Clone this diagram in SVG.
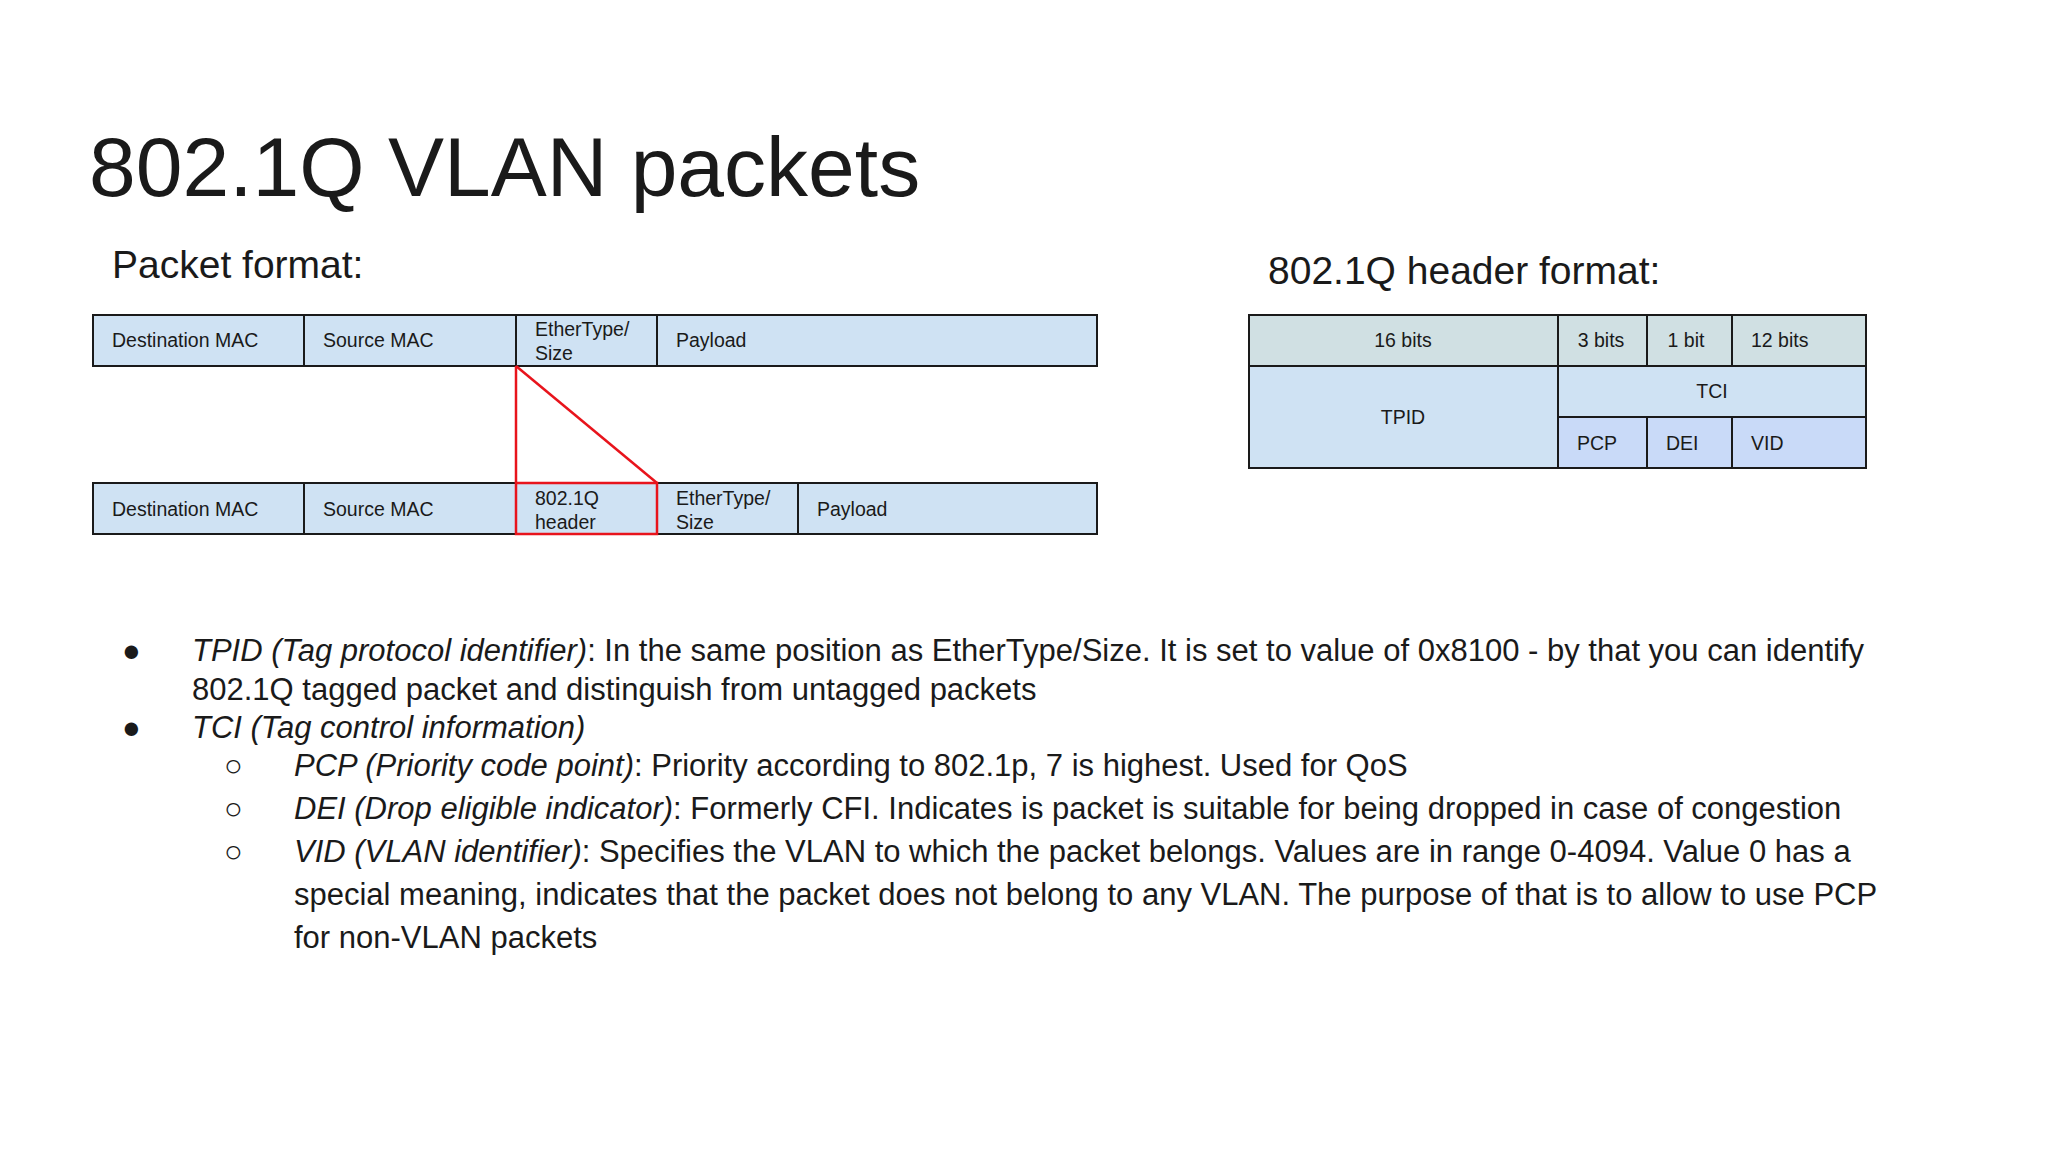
<svg xmlns="http://www.w3.org/2000/svg" width="2048" height="1152" viewBox="0 0 2048 1152">
<style>
text{font-family:"Liberation Sans",Arial,sans-serif;fill:#1a1a1a}
.c{font-size:19.5px}
.cm{font-size:19.5px;text-anchor:middle}
.b{font-size:31px}
.i{font-style:italic}
.cell{stroke:#1a1a1a;stroke-width:2}
.pk{fill:#cfe2f3}
.hd{fill:#d0e0e3}
.sb{fill:#c9daf8}
.red{fill:none;stroke:#e8141c;stroke-width:2.5}
</style>
<rect width="2048" height="1152" fill="#fff"/>
<text x="89" y="196" font-size="84">802.1Q VLAN packets</text>
<text x="112" y="278" font-size="39">Packet format:</text>
<text x="1268" y="284" font-size="39">802.1Q header format:</text>
<g id="packet-top">
<rect class="cell pk" x="93" y="315" width="211" height="51"/>
<rect class="cell pk" x="304" y="315" width="212" height="51"/>
<rect class="cell pk" x="516" y="315" width="141" height="51"/>
<rect class="cell pk" x="657" y="315" width="440" height="51"/>
<text class="c" x="112" y="347">Destination MAC</text>
<text class="c" x="323" y="347">Source MAC</text>
<text class="c" x="535" y="336">EtherType/</text>
<text class="c" x="535" y="360">Size</text>
<text class="c" x="676" y="347">Payload</text>
</g>
<g id="packet-bottom">
<rect class="cell pk" x="93" y="483" width="211" height="51"/>
<rect class="cell pk" x="304" y="483" width="212" height="51"/>
<rect class="cell pk" x="516" y="483" width="141" height="51"/>
<rect class="cell pk" x="657" y="483" width="141" height="51"/>
<rect class="cell pk" x="798" y="483" width="299" height="51"/>
<rect class="red" x="516" y="483" width="141" height="51"/>
<text class="c" x="112" y="516">Destination MAC</text>
<text class="c" x="323" y="516">Source MAC</text>
<text class="c" x="535" y="505">802.1Q</text>
<text class="c" x="535" y="529">header</text>
<text class="c" x="676" y="505">EtherType/</text>
<text class="c" x="676" y="529">Size</text>
<text class="c" x="817" y="516">Payload</text>
</g>
<g id="connectors">
<line class="red" x1="516" y1="366" x2="516" y2="483"/>
<line class="red" x1="516" y1="366" x2="657" y2="483"/>
</g>
<g id="header-format">
<rect class="cell hd" x="1249" y="315" width="309" height="51"/>
<rect class="cell hd" x="1558" y="315" width="89" height="51"/>
<rect class="cell hd" x="1647" y="315" width="85" height="51"/>
<rect class="cell hd" x="1732" y="315" width="134" height="51"/>
<rect class="cell pk" x="1249" y="366" width="309" height="102"/>
<rect class="cell pk" x="1558" y="366" width="308" height="51"/>
<rect class="cell sb" x="1558" y="417" width="89" height="51"/>
<rect class="cell sb" x="1647" y="417" width="85" height="51"/>
<rect class="cell sb" x="1732" y="417" width="134" height="51"/>
<text class="cm" x="1403" y="347">16 bits</text>
<text class="cm" x="1601" y="347">3 bits</text>
<text class="cm" x="1686" y="347">1 bit</text>
<text class="c" x="1751" y="347">12 bits</text>
<text class="cm" x="1403" y="424">TPID</text>
<text class="cm" x="1712" y="398">TCI</text>
<text class="c" x="1577" y="450">PCP</text>
<text class="c" x="1666" y="450">DEI</text>
<text class="c" x="1751" y="450">VID</text>
</g>
<g id="bullets">
<text class="b" x="122" y="661">●</text>
<text class="b" x="192" y="661"><tspan class="i">TPID (Tag protocol identifier)</tspan>: In the same position as EtherType/Size. It is set to value of 0x8100 - by that you can identify</text>
<text class="b" x="192" y="700">802.1Q tagged packet and distinguish from untagged packets</text>
<text class="b" x="122" y="738">●</text>
<text class="b i" x="192" y="738">TCI (Tag control information)</text>
<text class="b" x="224" y="776">○</text>
<text class="b" x="294" y="776"><tspan class="i">PCP (Priority code point)</tspan>: Priority according to 802.1p, 7 is highest. Used for QoS</text>
<text class="b" x="224" y="819">○</text>
<text class="b" x="294" y="819"><tspan class="i">DEI (Drop eligible indicator)</tspan>: Formerly CFI. Indicates is packet is suitable for being dropped in case of congestion</text>
<text class="b" x="224" y="862">○</text>
<text class="b" x="294" y="862"><tspan class="i">VID (VLAN identifier)</tspan>: Specifies the VLAN to which the packet belongs. Values are in range 0-4094. Value 0 has a</text>
<text class="b" x="294" y="905">special meaning, indicates that the packet does not belong to any VLAN. The purpose of that is to allow to use PCP</text>
<text class="b" x="294" y="948">for non-VLAN packets</text>
</g>
</svg>
